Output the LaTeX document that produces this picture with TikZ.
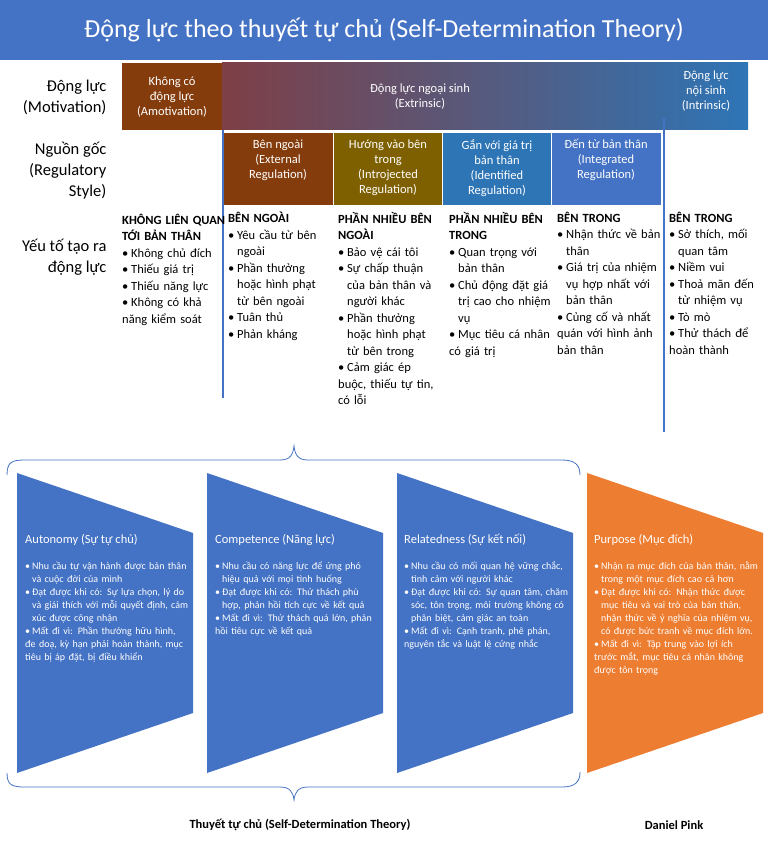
\documentclass[tikz,border=0pt]{standalone}
\usepackage{fontspec}
\setmainfont{Carlito}
\definecolor{tblue}{HTML}{4472C4}
\definecolor{brownA}{HTML}{843C0C}
\definecolor{oliveB}{HTML}{7F6000}
\definecolor{blueC}{HTML}{2E75B6}
\definecolor{orangeP}{HTML}{ED7D31}
\definecolor{gradL}{HTML}{7E3F46}
\newcommand{\bi}[1]{\par\hangindent=9pt\hangafter=1\noindent\makebox[9pt][l]{•}#1}
\newcommand{\sbi}[1]{\par\hangindent=7pt\hangafter=1\noindent\makebox[7pt][l]{•}#1}
\begin{document}
\begin{tikzpicture}[x=1pt,y=-1pt,
  hdr/.style={text=white,font=\fontsize{12.5}{15}\selectfont,align=center},
  rowlab/.style={anchor=east,align=right,font=\fontsize{16.5}{21}\selectfont},
  col/.style={anchor=north west,text width=104pt,inner sep=0pt,align=left,font=\fontsize{12.5}{16.5}\selectfont},
  trap/.style={fill=tblue},
  ttl/.style={anchor=north west,text=white,font=\fontsize{12.5}{15}\selectfont,inner sep=0pt},
  body/.style={anchor=north west,text=white,text width=164pt,inner sep=0pt,align=left,font=\fontsize{10}{13}\selectfont},
  brace/.style={draw=tblue,line width=0.8pt},
  vline/.style={draw=tblue,line width=1.2pt}]
\useasboundingbox (0,0) rectangle (768,866);
% title
\fill[tblue] (0,0) rectangle (768,60);
\node[text=white,font=\fontsize{26}{30}\selectfont] (title) at (384,30) {Động lực theo thuyết tự chủ (Self-Determination Theory)};
% row labels
\node[rowlab] (r1) at (110,97) {Động lực\\(Motivation)};
\node[rowlab] (r2) at (110,171) {Nguồn gốc\\(Regulatory\\Style)};
\node[rowlab] (r3) at (110,257) {Yếu tố tạo ra\\động lực};
% row 1
\fill[brownA] (122,63) rectangle (222,130);
\shade[left color=gradL,right color=blueC,shading angle=90] (222,63) rectangle (748,130);
\node[hdr] (amot) at (172,97) {Không có\\động lực\\(Amotivation)};
\node[hdr] (extr) at (420,97) {Động lực ngoại sinh\\(Extrinsic)};
\node[hdr] (intr) at (706,91) {Động lực\\nội sinh\\(Intrinsic)};
% row 2
\fill[brownA] (224,133) rectangle (333,205);
\fill[oliveB] (334,133) rectangle (442,205);
\fill[blueC] (443,133) rectangle (551,205);
\fill[tblue] (552,133) rectangle (661,205);
\node[hdr] (ext) at (278,160) {Bên ngoài\\(External\\Regulation)};
\node[hdr] (intro) at (388,168) {Hướng vào bên\\trong\\(Introjected\\Regulation)};
\node[hdr] (iden) at (497,168) {Gắn với giá trị\\bản thân\\(Identified\\Regulation)};
\node[hdr] (integ) at (606,160) {Đến từ bản thân\\(Integrated\\Regulation)};
% vertical lines
\draw[vline] (223,130) -- (223,398);
\draw[vline] (664,118) -- (664,432);
% columns
\node[col] (c1) at (122,214) {\textbf{KHÔNG LIÊN QUAN TỚI BẢN THÂN}\bi{Không chủ đích}\bi{Thiếu giá trị}\bi{Thiếu năng lực}\bi{Không có khả năng kiểm soát}};
\node[col] (c2) at (228,212) {\textbf{BÊN NGOÀI}\bi{Yêu cầu từ bên ngoài}\bi{Phần thưởng hoặc hình phạt từ bên ngoài}\bi{Tuân thủ}\bi{Phản kháng}};
\node[col] (c3) at (338,212) {\textbf{PHẦN NHIỀU BÊN NGOÀI}\bi{Bảo vệ cái tôi}\bi{Sự chấp thuận của bản thân và người khác}\bi{Phần thưởng hoặc hình phạt từ bên trong}\bi{Cảm giác ép buộc, thiếu tự tin, có lỗi}};
\node[col] (c4) at (449,212) {\textbf{PHẦN NHIỀU BÊN TRONG}\bi{Quan trọng với bản thân}\bi{Chủ động đặt giá trị cao cho nhiệm vụ}\bi{Mục tiêu cá nhân có giá trị}};
\node[col] (c5) at (557,212) {\textbf{BÊN TRONG}\bi{Nhận thức về bản thân}\bi{Giá trị của nhiệm vụ hợp nhất với bản thân}\bi{Củng cố và nhất quán với hình ảnh bản thân}};
\node[col,text width=96pt] (c6) at (669,212) {\textbf{BÊN TRONG}\bi{Sở thích, mối quan tâm}\bi{Niềm vui}\bi{Thoả mãn đến từ nhiệm vụ}\bi{Tò mò}\bi{Thử thách để hoàn thành}};
% braces
\draw[brace] (7,475) .. controls (7,462) and (12,460) .. (25,460) -- (280,460) .. controls (290,460) and (293,455) .. (294,446) .. controls (295,455) and (298,460) .. (308,460) -- (562,460) .. controls (575,460) and (580,465) .. (580,475);
\draw[brace] (7,773) .. controls (7,785) and (12,787) .. (25,787) -- (280,787) .. controls (290,787) and (293,792) .. (294,800) .. controls (295,792) and (298,787) .. (308,787) -- (562,787) .. controls (575,787) and (580,782) .. (580,772);
% trapezoids
\fill[trap] (17,473) -- (193,533) -- (193,713) -- (17,773) -- cycle;
\fill[trap] (207,473) -- (383,533) -- (383,713) -- (207,773) -- cycle;
\fill[trap] (397,473) -- (573,533) -- (573,713) -- (397,773) -- cycle;
\fill[orangeP] (587,473) -- (763,533) -- (763,713) -- (587,773) -- cycle;
\node[ttl] (t1) at (25,534) {Autonomy (Sự tự chủ)};
\node[body] (b1) at (25,556) {\sbi{Nhu cầu tự vận hành được bản thân và cuộc đời của mình}\sbi{Đạt được khi có: Sự lựa chọn, lý do và giải thích với mỗi quyết định, cảm xúc được công nhận}\sbi{Mất đi vì: Phần thưởng hữu hình, đe doạ, kỳ hạn phải hoàn thành, mục tiêu bị áp đặt, bị điều khiển}};
\node[ttl] (t2) at (215,534) {Competence (Năng lực)};
\node[body] (b2) at (215,556) {\sbi{Nhu cầu có năng lực để ứng phó hiệu quả với mọi tình huống}\sbi{Đạt được khi có: Thử thách phù hợp, phản hồi tích cực về kết quả}\sbi{Mất đi vì: Thử thách quá lớn, phản hồi tiêu cực về kết quả}};
\node[ttl] (t3) at (404,534) {Relatedness (Sự kết nối)};
\node[body] (b3) at (404,556) {\sbi{Nhu cầu có mối quan hệ vững chắc, tình cảm với người khác}\sbi{Đạt được khi có: Sự quan tâm, chăm sóc, tôn trọng, môi trường không có phân biệt, cảm giác an toàn}\sbi{Mất đi vì: Cạnh tranh, phê phán, nguyên tắc và luật lệ cứng nhắc}};
\node[ttl] (t4) at (594,534) {Purpose (Mục đích)};
\node[body] (b4) at (594,556) {\sbi{Nhận ra mục đích của bản thân, nằm trong một mục đích cao cả hơn}\sbi{Đạt được khi có: Nhận thức được mục tiêu và vai trò của bản thân, nhận thức về ý nghĩa của nhiệm vụ, có được bức tranh về mục đích lớn.}\sbi{Mất đi vì: Tập trung vào lợi ích trước mắt, mục tiêu cá nhân không được tôn trọng}};
% bottom labels
\node[font=\fontsize{12.5}{15}\selectfont\bfseries] (sdt) at (300,825) {Thuyết tự chủ (Self-Determination Theory)};
\node[font=\fontsize{12.5}{15}\selectfont\bfseries] (dp) at (674,825) {Daniel Pink};
\end{tikzpicture}
\end{document}
